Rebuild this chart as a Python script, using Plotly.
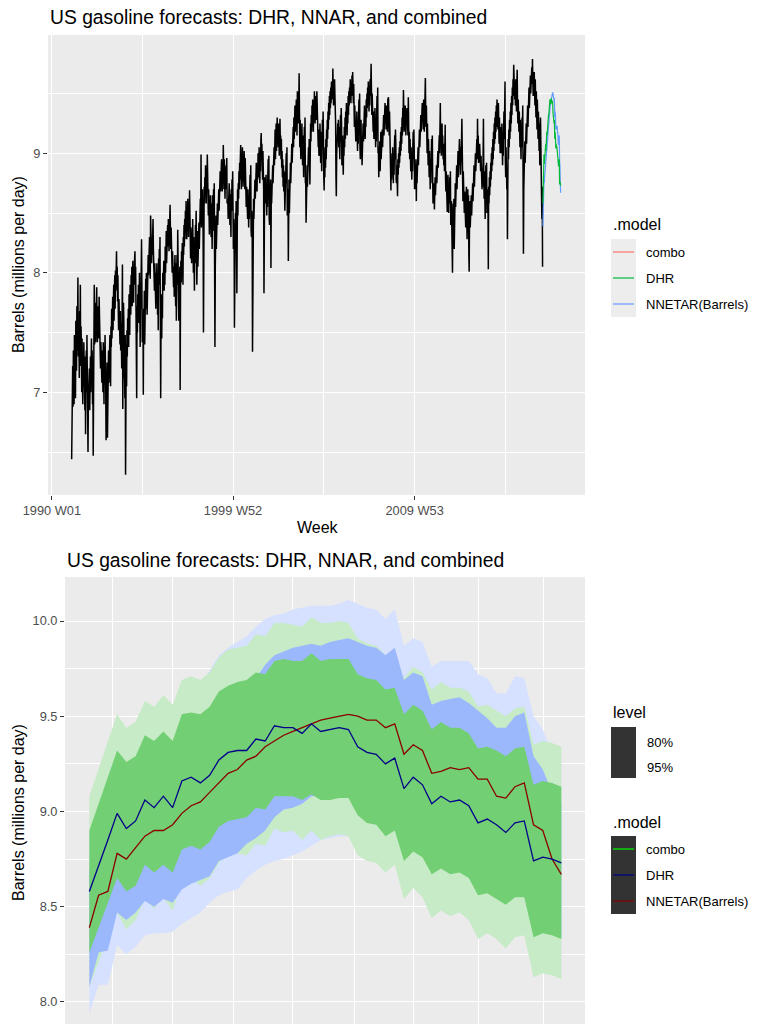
import plotly.graph_objects as go

# ---------------- data ----------------
# Weekly US finished motor gasoline product supplied, in hundredths of
# million barrels per day, 1991 W06 .. 2017 W03
gas_1991 = [644, 662, 700, 722, 688, 735, 705, 690, 748, 712, 728, 695, 760, 742, 718, 772, 735, 755, 796, 730,
            760, 745, 712, 768, 740, 790, 722, 755, 738, 700, 745, 712, 690, 728, 705, 742, 698, 720, 685, 730,
            665, 712, 735, 700, 748, 722, 668]
gas_1992 = [650, 690, 712, 695, 720, 685, 705, 730, 700, 722, 745, 712, 735, 690, 718, 647, 730, 762, 790, 740,
            758, 775, 742, 770, 755, 788, 760, 742, 772, 750, 768, 745, 780, 762, 738, 752, 720, 742, 715, 730,
            708, 735, 722, 700, 742, 715, 690, 738, 720, 748, 735, 702, 660]
gas_1993 = [680, 712, 725, 662, 718, 700, 735, 708, 742, 720, 748, 730, 705, 755, 738, 770, 745, 762, 780, 752,
            775, 790, 760, 785, 798, 770, 802, 785, 812, 818, 790, 805, 776, 798, 770, 752, 778, 745, 765, 740,
            768, 735, 758, 742, 720, 760, 807, 686, 752, 775, 760, 712]
gas_1994 = [720, 695, 748, 631, 712, 740, 705, 752, 730, 762, 745, 770, 738, 782, 760, 748, 790, 772, 765, 798,
            780, 805, 772, 795, 810, 788, 775, 800, 790, 812, 818, 792, 805, 770, 745, 695, 772, 750, 782, 765,
            790, 758, 775, 800, 762, 738, 785, 770, 802, 828, 790, 742]
gas_1995 = [745, 760, 698, 770, 752, 785, 740, 778, 762, 795, 770, 800, 782, 765, 808, 790, 815, 798, 825, 805,
            830, 812, 795, 848, 820, 835, 808, 828, 815, 832, 845, 820, 800, 812, 785, 808, 775, 795, 770, 800,
            782, 808, 790, 765, 795, 752, 812, 790, 820, 805, 830, 760]
gas_1996 = [695, 760, 782, 745, 775, 762, 800, 780, 795, 810, 785, 808, 790, 822, 800, 815, 835, 808, 828, 812,
            840, 822, 845, 830, 818, 842, 825, 857, 835, 820, 838, 812, 830, 800, 818, 792, 810, 788, 805, 780,
            800, 815, 790, 772, 808, 760, 795, 815, 790, 836, 812, 765]
gas_1997 = [760, 790, 772, 805, 702, 785, 810, 792, 818, 800, 825, 808, 790, 830, 815, 840, 822, 845, 828, 852,
            835, 860, 842, 828, 855, 838, 862, 845, 830, 858, 840, 869, 850, 835, 812, 838, 820, 808, 832, 815,
            845, 822, 800, 830, 812, 785, 825, 808, 840, 830, 852, 790]
gas_1998 = [790, 812, 835, 805, 828, 815, 842, 820, 850, 835, 862, 845, 899, 838, 860, 842, 870, 855, 832, 750,
            848, 872, 858, 880, 865, 890, 872, 858, 885, 870, 899, 875, 862, 848, 870, 845, 832, 858, 840, 865,
            848, 830, 858, 842, 820, 865, 835, 852, 870, 848, 875, 832, 738]
gas_1999 = [805, 830, 848, 820, 845, 832, 858, 840, 862, 848, 870, 852, 878, 860, 885, 868, 890, 872, 895, 880,
            868, 892, 875, 907, 882, 870, 895, 878, 862, 885, 870, 890, 875, 896, 858, 880, 862, 845, 870, 852,
            875, 858, 840, 866, 848, 830, 870, 852, 878, 862, 885, 820]
gas_2000 = [820, 845, 830, 754, 838, 822, 850, 835, 860, 842, 783, 855, 870, 848, 875, 862, 885, 870, 892, 878,
            895, 907, 885, 870, 898, 882, 905, 888, 872, 895, 880, 902, 885, 870, 896, 862, 878, 855, 872, 850,
            868, 845, 870, 852, 838, 862, 845, 870, 882, 858, 890, 835]
gas_2001 = [830, 852, 840, 734, 848, 835, 862, 845, 870, 855, 878, 862, 885, 870, 892, 875, 868, 890, 878, 900,
            893, 880, 905, 888, 875, 900, 885, 910, 917, 895, 908, 890, 878, 902, 885, 870, 783, 862, 880, 858,
            875, 860, 882, 865, 848, 872, 855, 880, 895, 870, 898, 845]
gas_2002 = [840, 865, 852, 878, 804, 870, 858, 882, 865, 890, 875, 898, 882, 905, 890, 912, 920, 895, 910, 925,
            902, 918, 930, 908, 920, 905, 925, 912, 898, 922, 929, 908, 915, 895, 912, 888, 902, 880, 895, 872,
            890, 868, 885, 870, 852, 878, 860, 885, 900, 875, 905, 848]
gas_2003 = [855, 870, 810, 862, 878, 850, 885, 868, 892, 875, 900, 885, 908, 892, 915, 900, 922, 905, 930, 912,
            925, 940, 918, 935, 922, 945, 930, 915, 952, 938, 925, 948, 935, 967, 920, 905, 928, 910, 895, 918,
            902, 925, 908, 890, 915, 898, 880, 905, 922, 900, 930, 875]
gas_2004 = [880, 842, 878, 865, 890, 872, 898, 880, 905, 890, 912, 895, 874, 908, 925, 910, 932, 918, 940, 925,
            945, 930, 918, 942, 935, 952, 938, 925, 948, 932, 940, 928, 952, 935, 915, 930, 905, 920, 898, 915,
            900, 925, 910, 892, 918, 902, 885, 910, 928, 905, 935, 912, 880]
gas_2005 = [869, 895, 880, 905, 888, 912, 895, 920, 905, 928, 912, 935, 920, 942, 928, 948, 932, 952, 938, 955,
            942, 960, 945, 958, 948, 971, 952, 940, 958, 945, 962, 948, 935, 925, 880, 864, 898, 915, 902, 925,
            910, 928, 905, 922, 908, 895, 918, 932, 910, 938, 925, 890]
gas_2006 = [900, 915, 895, 882, 910, 898, 922, 905, 930, 912, 935, 920, 942, 928, 915, 938, 925, 948, 932, 952,
            940, 955, 945, 962, 950, 942, 958, 948, 965, 952, 968, 950, 942, 958, 935, 922, 940, 918, 932, 910,
            928, 912, 935, 918, 902, 925, 908, 930, 945, 922, 950, 905]
gas_2007 = [895, 912, 928, 905, 908, 890, 918, 902, 925, 910, 932, 918, 940, 925, 912, 935, 922, 945, 930, 950,
            938, 955, 942, 960, 948, 935, 952, 940, 962, 948, 958, 975, 945, 932, 950, 925, 940, 918, 935, 912,
            930, 915, 938, 920, 905, 928, 910, 932, 948, 925, 955, 900]
gas_2008 = [905, 880, 895, 892, 910, 885, 902, 918, 895, 912, 898, 920, 905, 925, 910, 932, 915, 938, 920, 942,
            928, 935, 920, 940, 925, 932, 918, 945, 930, 947, 928, 915, 935, 920, 905, 890, 869, 895, 878, 900,
            885, 905, 892, 875, 898, 882, 905, 915, 895, 920, 908, 878]
gas_2009 = [875, 890, 880, 864, 895, 882, 900, 888, 905, 892, 910, 898, 918, 902, 922, 908, 930, 915, 938, 925,
            953, 930, 918, 935, 922, 940, 928, 915, 935, 925, 938, 922, 930, 915, 947, 912, 900, 918, 895, 912,
            900, 885, 905, 892, 878, 898, 885, 905, 918, 895, 920, 902, 870]
gas_2010 = [872, 885, 878, 895, 860, 888, 875, 898, 882, 905, 890, 912, 898, 920, 905, 925, 910, 932, 918, 938,
            922, 942, 928, 935, 920, 945, 930, 918, 940, 925, 963, 935, 922, 940, 915, 900, 925, 905, 890, 912,
            895, 880, 902, 885, 870, 892, 875, 898, 912, 888, 915, 880]
gas_2011 = [858, 870, 862, 875, 853, 868, 880, 865, 885, 872, 890, 875, 895, 880, 902, 888, 910, 895, 915, 900,
            920, 942, 905, 918, 898, 912, 925, 902, 915, 895, 908, 890, 905, 885, 900, 924, 880, 868, 885, 870,
            858, 851, 870, 882, 865, 850, 872, 858, 880, 862, 885, 840]
gas_2012 = [845, 860, 838, 852, 800, 842, 858, 835, 862, 820, 868, 848, 875, 855, 882, 862, 890, 870, 895, 875,
            902, 880, 908, 885, 912, 890, 905, 882, 910, 895, 912, 929, 898, 875, 860, 885, 865, 878, 850, 868,
            848, 865, 838, 858, 872, 845, 828, 855, 870, 842, 865, 815]
gas_2013 = [801, 845, 860, 838, 855, 842, 865, 848, 870, 855, 875, 860, 882, 868, 890, 872, 895, 880, 900, 885,
            905, 890, 912, 895, 929, 900, 915, 892, 910, 895, 908, 888, 902, 885, 898, 875, 890, 870, 888, 872,
            895, 929, 880, 862, 885, 868, 845, 875, 890, 865, 892, 850]
gas_2014 = [855, 870, 862, 803, 872, 858, 880, 865, 885, 872, 892, 878, 900, 885, 905, 890, 912, 895, 918, 902,
            925, 908, 930, 912, 935, 918, 940, 922, 945, 928, 938, 920, 942, 925, 908, 930, 912, 900, 922, 905,
            918, 900, 925, 908, 890, 915, 898, 920, 935, 912, 945, 960]
gas_2015 = [895, 880, 905, 890, 870, 885, 828, 898, 912, 895, 920, 905, 928, 912, 935, 918, 942, 925, 948, 932,
            955, 940, 962, 948, 974, 952, 965, 945, 958, 940, 962, 948, 935, 955, 970, 940, 925, 945, 928, 918,
            935, 920, 905, 928, 912, 895, 920, 905, 930, 915, 940, 900, 816]
gas_2016 = [870, 898, 885, 910, 892, 918, 900, 925, 908, 932, 915, 940, 922, 948, 930, 955, 938, 960, 945, 965,
            950, 968, 955, 972, 958, 979, 962, 948, 965, 952, 968, 955, 940, 962, 945, 930, 952, 935, 920, 945,
            928, 912, 935, 918, 902, 925, 890, 915, 930, 885, 910, 862]
gas_2017 = [845, 872, 805]

history_years = [gas_1991, gas_1992, gas_1993, gas_1994, gas_1995, gas_1996, gas_1997, gas_1998, gas_1999,
                 gas_2000, gas_2001, gas_2002, gas_2003, gas_2004, gas_2005, gas_2006, gas_2007, gas_2008,
                 gas_2009, gas_2010, gas_2011, gas_2012, gas_2013, gas_2014, gas_2015, gas_2016, gas_2017]

# 52-week forecasts (million barrels per day)
dhr = [8.58, 8.71, 8.85, 8.99, 8.91, 8.95, 9.06, 9.02, 9.08, 9.02, 9.16, 9.18, 9.15, 9.19, 9.27, 9.31, 9.32,
       9.32, 9.38, 9.37, 9.45, 9.44, 9.44, 9.41, 9.46, 9.42, 9.43, 9.44, 9.43, 9.34, 9.31, 9.30, 9.25, 9.28,
       9.12, 9.18, 9.14, 9.04, 9.08, 9.05, 9.06, 9.03, 8.94, 8.96, 8.93, 8.89, 8.94, 8.95, 8.74, 8.76, 8.75, 8.73]
nnetar = [8.39, 8.56, 8.58, 8.78, 8.75, 8.81, 8.87, 8.90, 8.90, 8.93, 8.99, 9.03, 9.05, 9.10, 9.15, 9.20, 9.22,
          9.27, 9.29, 9.34, 9.37, 9.40, 9.42, 9.44, 9.46, 9.48, 9.49, 9.50, 9.51, 9.50, 9.48, 9.48, 9.44, 9.46,
          9.30, 9.35, 9.32, 9.20, 9.21, 9.23, 9.22, 9.23, 9.17, 9.17, 9.08, 9.07, 9.13, 9.15, 8.93, 8.90, 8.75, 8.67]

# interval bounds drawn in green (80% / 95%)
green80_hi = [8.90, 9.04, 9.18, 9.32, 9.26, 9.29, 9.40, 9.37, 9.42, 9.37, 9.51, 9.52, 9.51, 9.55, 9.63, 9.66, 9.68,
              9.69, 9.73, 9.72, 9.79, 9.80, 9.79, 9.79, 9.83, 9.79, 9.80, 9.80, 9.80, 9.72, 9.70, 9.69, 9.64, 9.65,
              9.51, 9.56, 9.53, 9.43, 9.47, 9.44, 9.44, 9.41, 9.33, 9.34, 9.32, 9.29, 9.33, 9.34, 9.14, 9.16, 9.15, 9.13]
green80_lo = [8.26, 8.39, 8.52, 8.65, 8.58, 8.61, 8.72, 8.68, 8.72, 8.68, 8.80, 8.82, 8.80, 8.84, 8.92, 8.95, 8.96,
              8.97, 9.02, 9.01, 9.08, 9.08, 9.08, 9.06, 9.09, 9.06, 9.06, 9.07, 9.07, 8.98, 8.94, 8.93, 8.87, 8.90,
              8.74, 8.79, 8.76, 8.67, 8.70, 8.67, 8.68, 8.65, 8.56, 8.57, 8.54, 8.51, 8.55, 8.55, 8.34, 8.36, 8.35, 8.33]
green95_hi = [9.08, 9.22, 9.36, 9.51, 9.44, 9.47, 9.58, 9.55, 9.61, 9.56, 9.69, 9.71, 9.69, 9.73, 9.81, 9.85, 9.86,
              9.87, 9.93, 9.92, 9.99, 9.99, 9.98, 9.97, 10.02, 9.99, 9.99, 10.00, 9.99, 9.91, 9.88, 9.87, 9.82, 9.84,
              9.70, 9.76, 9.73, 9.64, 9.68, 9.65, 9.65, 9.63, 9.55, 9.56, 9.53, 9.50, 9.54, 9.55, 9.35, 9.37, 9.36, 9.34]
green95_lo = [8.08, 8.20, 8.34, 8.47, 8.38, 8.43, 8.54, 8.49, 8.55, 8.48, 8.63, 8.65, 8.61, 8.65, 8.73, 8.77, 8.78,
              8.77, 8.83, 8.82, 8.91, 8.89, 8.90, 8.85, 8.90, 8.85, 8.87, 8.88, 8.87, 8.77, 8.74, 8.73, 8.68, 8.72,
              8.54, 8.60, 8.55, 8.44, 8.48, 8.45, 8.47, 8.43, 8.33, 8.36, 8.33, 8.28, 8.34, 8.35, 8.13, 8.15, 8.14, 8.12]
# interval bounds drawn in blue (80% / 95%)
blue80_hi = [8.69, 8.88, 8.91, 9.13, 9.10, 9.17, 9.24, 9.28, 9.29, 9.33, 9.39, 9.43, 9.46, 9.51, 9.56, 9.61, 9.64,
             9.67, 9.70, 9.77, 9.82, 9.84, 9.86, 9.87, 9.88, 9.87, 9.89, 9.90, 9.91, 9.89, 9.87, 9.86, 9.82, 9.86,
             9.69, 9.73, 9.71, 9.56, 9.58, 9.59, 9.60, 9.57, 9.53, 9.49, 9.44, 9.44, 9.50, 9.52, 9.29, 9.22, 9.10, 9.05]
blue80_lo = [8.08, 8.26, 8.27, 8.47, 8.43, 8.47, 8.53, 8.50, 8.54, 8.52, 8.59, 8.62, 8.64, 8.66, 8.74, 8.76, 8.78,
             8.83, 8.86, 8.90, 8.97, 9.01, 9.02, 9.04, 9.08, 9.08, 9.09, 9.10, 9.11, 9.09, 9.07, 9.06, 9.02, 9.04,
             8.88, 8.93, 8.90, 8.78, 8.79, 8.81, 8.80, 8.81, 8.75, 8.75, 8.66, 8.65, 8.71, 8.73, 8.51, 8.48, 8.36, 8.34]
blue95_hi = [8.89, 9.10, 9.15, 9.38, 9.36, 9.42, 9.49, 9.50, 9.52, 9.54, 9.60, 9.64, 9.66, 9.74, 9.82, 9.86, 9.89,
             9.92, 9.97, 10.01, 10.03, 10.04, 10.06, 10.07, 10.08, 10.08, 10.08, 10.09, 10.11, 10.09, 10.07, 10.06,
             10.01, 10.06, 9.87, 9.91, 9.89, 9.76, 9.79, 9.79, 9.79, 9.79, 9.72, 9.70, 9.62, 9.62, 9.71, 9.70, 9.50,
             9.43, 9.30, 9.28]
blue95_lo = [7.94, 8.09, 8.09, 8.30, 8.25, 8.29, 8.35, 8.36, 8.36, 8.37, 8.41, 8.44, 8.47, 8.52, 8.56, 8.58, 8.59,
             8.65, 8.69, 8.72, 8.74, 8.75, 8.77, 8.79, 8.82, 8.85, 8.86, 8.87, 8.87, 8.85, 8.83, 8.82, 8.77, 8.79,
             8.62, 8.66, 8.63, 8.52, 8.54, 8.55, 8.54, 8.55, 8.47, 8.48, 8.40, 8.38, 8.44, 8.46, 8.24, 8.21, 8.16, 8.14]

week_tick_labels = ["1990 W01", "1999 W52", "2009 W53"]

# ---------------- figure ----------------
history = [v / 100 for yr in history_years for v in yr]
hist_week = list(range(len(history)))
fc_week = list(range(len(history), len(history) + len(dhr)))
h = list(range(len(dhr)))

W, H = 768, 1024
def px(x): return x / W
def py(y): return 1 - y / H

FONT = "Liberation Sans, Arial, sans-serif"
fig = go.Figure()

# top panel
fig.add_trace(go.Scatter(x=hist_week, y=history, mode="lines", line=dict(color="black", width=1.5),
                         xaxis="x", yaxis="y", hoverinfo="skip", showlegend=False))
fig.add_trace(go.Scatter(x=fc_week, y=nnetar, mode="lines", line=dict(color="#619CFF", width=1.2),
                         xaxis="x", yaxis="y", hoverinfo="skip", showlegend=False))
fig.add_trace(go.Scatter(x=fc_week, y=dhr, mode="lines", line=dict(color="#00BA38", width=1.2),
                         xaxis="x", yaxis="y", hoverinfo="skip", showlegend=False))

# bottom panel bands
def band(hi, lo, color):
    fig.add_trace(go.Scatter(x=h + h[::-1], y=hi + lo[::-1], mode="lines", fill="toself",
                             fillcolor=color, line=dict(width=0), xaxis="x2", yaxis="y2",
                             hoverinfo="skip", showlegend=False))

band(blue95_hi, blue95_lo, "#D6E0FF")
band(green95_hi, green95_lo, "#C6EBC6")
band(blue80_hi, blue80_lo, "#9BB8FD")
band(green80_hi, green80_lo, "#72CF73")
fig.add_trace(go.Scatter(x=h, y=nnetar, mode="lines", line=dict(color="#8B0000", width=1.3),
                         xaxis="x2", yaxis="y2", hoverinfo="skip", showlegend=False))
fig.add_trace(go.Scatter(x=h, y=dhr, mode="lines", line=dict(color="#00008B", width=1.3),
                         xaxis="x2", yaxis="y2", hoverinfo="skip", showlegend=False))

tickfont = dict(family=FONT, size=12.8, color="#4D4D4D")
common = dict(showgrid=True, gridcolor="white", gridwidth=1.1, zeroline=False, showline=False,
              ticklen=4, tickwidth=1, tickcolor="#333333", tickfont=tickfont)

fig.update_layout(
    width=W, height=H, template="none", margin=dict(l=0, r=0, t=0, b=0),
    paper_bgcolor="white", plot_bgcolor="#EBEBEB", showlegend=False,
    font=dict(family=FONT, size=12.8, color="#4D4D4D"),
    xaxis=dict(domain=[px(48), px(585)], range=[-68, 1476], anchor="y", ticks="outside",
               tickmode="array", tickvals=[-57, 464, 986], ticktext=week_tick_labels,
               minor=dict(tickvals=[203.5, 725, 1247], showgrid=True, gridcolor="white", gridwidth=0.55, ticks=""),
               **common),
    yaxis=dict(domain=[py(495), py(35)], range=[6.141, 9.99], anchor="x", ticks="outside",
               tickmode="array", tickvals=[7, 8, 9], ticktext=["7", "8", "9"],
               minor=dict(tickvals=[6.5, 7.5, 8.5, 9.5], showgrid=True, gridcolor="white", gridwidth=0.55, ticks=""),
               **common),
    xaxis2=dict(domain=[px(65), px(585)], range=[-2.63, 53.56], anchor="y2", ticks="",
                tickmode="array", tickvals=[9.01, 21.98, 35.0, 49.1], showticklabels=False,
                minor=dict(tickvals=[2.53, 15.56, 28.6, 42.1], showgrid=True, gridcolor="white", gridwidth=0.55, ticks=""),
                **common),
    yaxis2=dict(domain=[0, py(577)], range=[7.884, 10.231], anchor="x2", ticks="outside",
                tickmode="array", tickvals=[8.0, 8.5, 9.0, 9.5, 10.0], ticktext=["8.0", "8.5", "9.0", "9.5", "10.0"],
                minor=dict(tickvals=[8.25, 8.75, 9.25, 9.75], showgrid=True, gridcolor="white", gridwidth=0.55, ticks=""),
                **common),
)

ann = []
def text(x, y, s, size=13, color="black", xanchor="left", angle=0):
    ann.append(dict(x=px(x), y=py(y), xref="paper", yref="paper", text=s, showarrow=False,
                    xanchor=xanchor, yanchor="middle", textangle=angle,
                    font=dict(family=FONT, size=size, color=color)))

title = "US gasoline forecasts: DHR, NNAR, and combined"
text(48, 17, title, size=19.3)
text(65, 560, title, size=19.3)
text(318, 527, "Week", size=16)
ann[-1]["xanchor"] = "center"
text(18, 265, "Barrels (millions per day)", size=16, xanchor="center", angle=-90)
text(18, 813, "Barrels (millions per day)", size=16, xanchor="center", angle=-90)

shapes = []
def rect(x0, y0, x1, y1, color):
    shapes.append(dict(type="rect", xref="paper", yref="paper", x0=px(x0), x1=px(x1), y0=py(y1), y1=py(y0),
                       fillcolor=color, line=dict(width=0), layer="above"))
def seg(x0, x1, y, color):
    shapes.append(dict(type="line", xref="paper", yref="paper", x0=px(x0), x1=px(x1), y0=py(y), y1=py(y),
                       line=dict(color=color, width=1.2), layer="above"))

# top legend
text(611, 224, ".model", size=16)
rect(611, 239, 636, 317, "#EDEDED")
for yy, col, lab in [(252, "#F8766D", "combo"), (278, "#00BA38", "DHR"), (304, "#619CFF", "NNETAR(Barrels)")]:
    seg(613, 634, yy, col)
    text(644, yy, lab, size=13)

# bottom legends
text(611, 712, "level", size=16)
rect(611, 727, 636, 778, "#333333")
text(645, 742, "80%", size=13)
text(645, 767, "95%", size=13)
text(611, 822, ".model", size=16)
rect(611, 836, 636, 914, "#333333")
for yy, col, lab in [(849, "#00FF00", "combo"), (875, "#00008B", "DHR"), (901, "#8B0000", "NNETAR(Barrels)")]:
    seg(613, 634, yy, col)
    text(644, yy, lab, size=13)

fig.update_layout(annotations=ann, shapes=shapes)
fig.write_html("out.html")
